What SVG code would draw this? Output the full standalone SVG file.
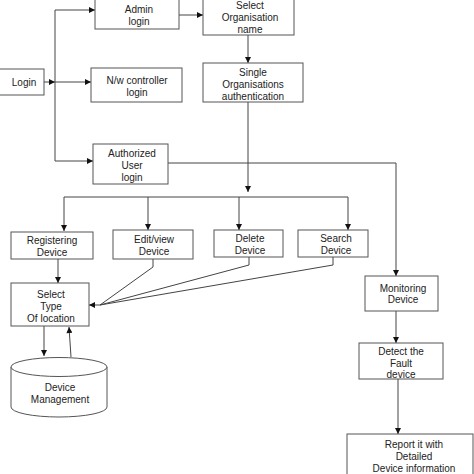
<svg xmlns="http://www.w3.org/2000/svg" width="474" height="474" viewBox="0 0 474 474">
<style>
.b{fill:#fff;stroke:#555;stroke-width:1}
.t{font-family:"Liberation Sans",Arial,sans-serif;font-size:10px;fill:#222;text-anchor:middle}
.c{fill:none;stroke:#444;stroke-width:1}
</style>
<defs>
<marker id="a" viewBox="0 0 10 10" refX="10" refY="5" markerWidth="7" markerHeight="6" markerUnits="userSpaceOnUse" orient="auto">
<path d="M0,0 L10,5 L0,10 z" fill="#111"/>
</marker>
</defs>
<rect width="474" height="474" fill="#fff"/>
<g id="connectors">
<path class="c" d="M44,82 H55" marker-end="url(#a)"/>
<path class="c" d="M55,82 H91" marker-end="url(#a)"/>
<path class="c" d="M55,10 V161"/>
<path class="c" d="M55,10 H95" marker-end="url(#a)"/>
<path class="c" d="M55,161 H93" marker-end="url(#a)"/>
<path class="c" d="M179,15 H203" marker-end="url(#a)"/>
<path class="c" d="M248,35 V63" marker-end="url(#a)"/>
<path class="c" d="M248,102 V192" marker-end="url(#a)"/>
<path class="c" d="M168,163 H396 V276" marker-end="url(#a)"/>
<path class="c" d="M64,197 H348"/>
<path class="c" d="M64,197 V231" marker-end="url(#a)"/>
<path class="c" d="M148,197 V230" marker-end="url(#a)"/>
<path class="c" d="M239,197 V230" marker-end="url(#a)"/>
<path class="c" d="M348,197 V230" marker-end="url(#a)"/>
<path class="c" d="M58,259 V283" marker-end="url(#a)"/>
<path class="c" d="M153,259 V267 L100,305"/>
<path class="c" d="M249,257 V265 L100,305"/>
<path class="c" d="M333,257 V265 L100,305"/>
<path class="c" d="M100,305 H89" marker-end="url(#a)"/>
<path class="c" d="M44,326 V356" marker-end="url(#a)"/>
<path class="c" d="M71,357 L69,327" marker-end="url(#a)"/>
<path class="c" d="M396,311 V343" marker-end="url(#a)"/>
<path class="c" d="M398,379 V434" marker-end="url(#a)"/>
</g>
<g id="login"><rect class="b" x="-1" y="69" width="45" height="26"/><text class="t" x="24" y="85.5">Login</text></g>
<g id="admin"><rect class="b" x="95" y="-1" width="84" height="30"/><text class="t" x="139" y="12.5">Admin</text><text class="t" x="139" y="24.5">login</text></g>
<g id="nw"><rect class="b" x="91" y="68" width="91" height="34"/><text class="t" x="137" y="83.5">N/w controller</text><text class="t" x="137" y="95.5">login</text></g>
<g id="auth"><rect class="b" x="93" y="144" width="75" height="40"/><text class="t" x="132" y="156.5">Authorized</text><text class="t" x="132" y="168.5">User</text><text class="t" x="132" y="180.5">login</text></g>
<g id="selorg"><rect class="b" x="203" y="-1" width="91" height="36"/><text class="t" x="250" y="8.5">Select</text><text class="t" x="250" y="20.5">Organisation</text><text class="t" x="250" y="32.5">name</text></g>
<g id="single"><rect class="b" x="203" y="63" width="100" height="39"/><text class="t" x="253" y="75.5">Single</text><text class="t" x="253" y="87.5">Organisations</text><text class="t" x="253" y="99.5">authentication</text></g>
<g id="reg"><rect class="b" x="11" y="232" width="82" height="27"/><text class="t" x="52" y="243.5">Registering</text><text class="t" x="52" y="255.5">Device</text></g>
<g id="edit"><rect class="b" x="113" y="230" width="80" height="29"/><text class="t" x="154" y="242.5">Edit/view</text><text class="t" x="154" y="254.5">Device</text></g>
<g id="delete"><rect class="b" x="214" y="230" width="69" height="27"/><text class="t" x="250" y="241.5">Delete</text><text class="t" x="250" y="253.5">Device</text></g>
<g id="search"><rect class="b" x="298" y="230" width="70" height="27"/><text class="t" x="336" y="241.5">Search</text><text class="t" x="336" y="253.5">Device</text></g>
<g id="seltype"><rect class="b" x="11" y="283" width="78" height="43"/><text class="t" x="51" y="297.5">Select</text><text class="t" x="51" y="309.5">Type</text><text class="t" x="51" y="321.5">Of location</text></g>
<g id="devmgmt"><path class="b" d="M11,367 V407 A48,10 0 0 0 107,407 V367"/><ellipse class="b" cx="59" cy="367" rx="48" ry="9.5"/><text class="t" x="60" y="390.5">Device</text><text class="t" x="60" y="402.5">Management</text></g>
<g id="monitor"><rect class="b" x="365" y="276" width="73" height="35"/><text class="t" x="403" y="291.5">Monitoring</text><text class="t" x="403" y="303">Device</text></g>
<g id="detect"><rect class="b" x="359" y="343" width="84" height="36"/><text class="t" x="401" y="354.5">Detect the</text><text class="t" x="401" y="366.5">Fault</text><text class="t" x="401" y="377.5">device</text></g>
<g id="report"><rect class="b" x="347" y="434" width="126" height="45"/><text class="t" x="414" y="447.5">Report it with</text><text class="t" x="414" y="460">Detailed</text><text class="t" x="414" y="471.5">Device information</text></g>
</svg>
